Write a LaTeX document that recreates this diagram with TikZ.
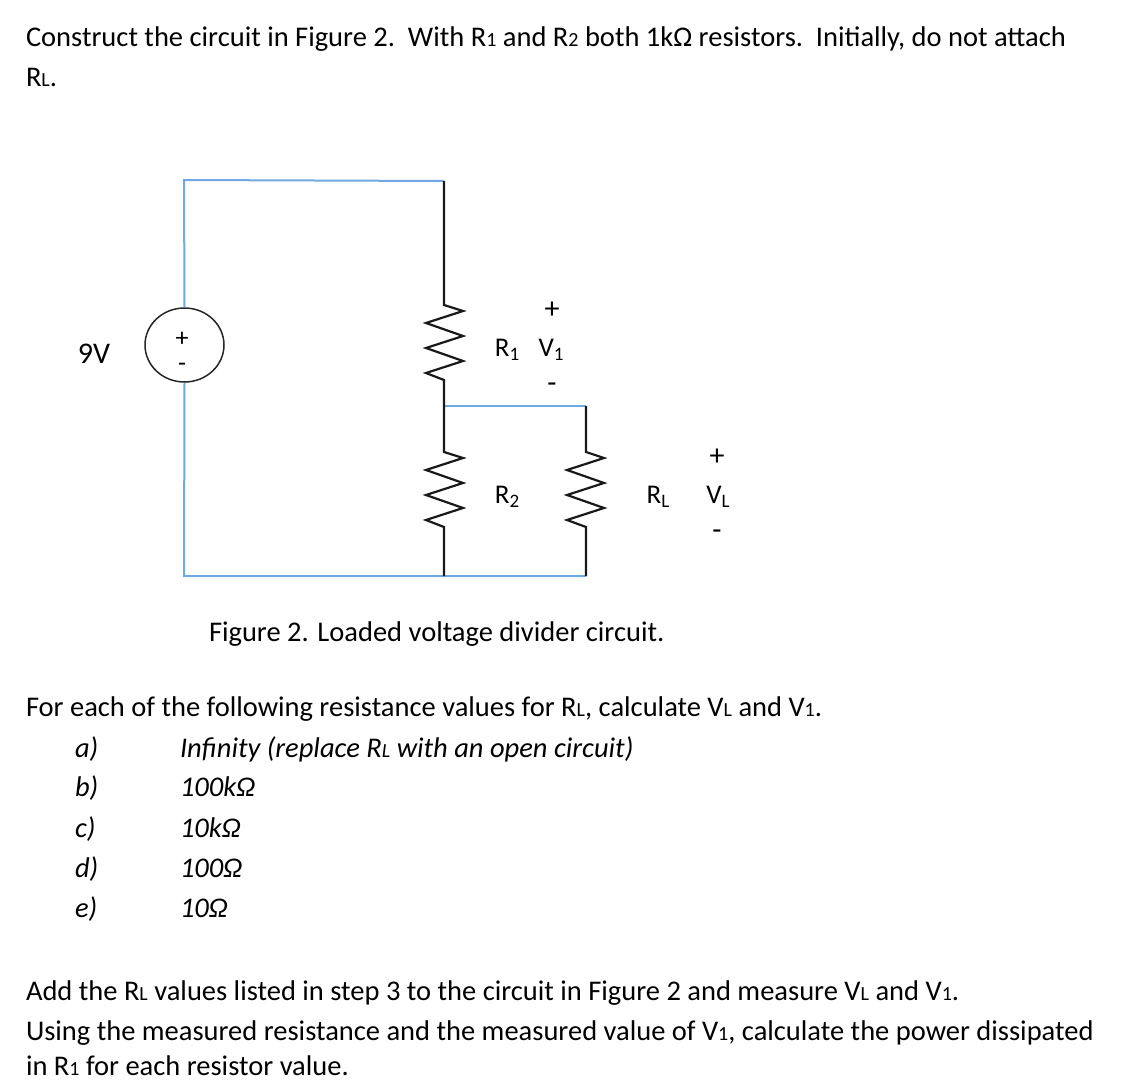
\documentclass[tikz,border=0pt]{standalone}
\usepackage{fontspec}
\usetikzlibrary{shapes.geometric}
\setmainfont{Carlito}
\newcommand{\lsub}[1]{{\fontsize{20}{20}\selectfont #1}}
\newcommand{\csub}[1]{\raisebox{-4pt}{\fontsize{19}{19}\selectfont #1}}
\definecolor{wirecol}{RGB}{110,170,225}
\tikzset{
  txt/.style={anchor=base west,inner sep=0pt,outer sep=0pt,font=\fontsize{28.5}{32}\selectfont},
  itxt/.style={txt,font=\fontsize{28.5}{32}\selectfont\itshape},
  clabel/.style={anchor=base,inner sep=0pt,outer sep=0pt,font=\fontsize{27}{30}\selectfont},
  sign/.style={clabel,font=\fontsize{30}{30}\selectfont},
  srcsign/.style={clabel,font=\fontsize{26}{26}\selectfont},
  wire/.style={draw=wirecol,line width=2pt},
  lead/.style={draw=black!90,line width=2.2pt,line join=miter}
}
\begin{document}
\begin{tikzpicture}[x=1pt,y=-1pt]
\useasboundingbox (0,0) rectangle (1131,1086);
\node[txt] (t1) at (26,47) {Construct the circuit in Figure 2.\ \ With R\lsub{1} and R\lsub{2} both 1kΩ resistors.\ \ Initially, do not attach};
\node[txt] (t2) at (26,87) {R\lsub{L}.};
% circuit
\coordinate (tl) at (184,180);
\coordinate (tr) at (444,181);
\coordinate (bl) at (184,576);
\coordinate (bm) at (444,576);
\coordinate (br) at (586,576);
\coordinate (j1) at (444,406);
\coordinate (j2) at (586,406);
\node[draw=black!85,line width=1.5pt,ellipse,minimum width=79pt,minimum height=74pt,inner sep=0pt] (src) at (184.5,345) {};
\draw[wire] (src.north) -- (tl) -- (tr);
\draw[wire] (src.south) -- (bl) -- (br);
\draw[wire] (j1) -- (j2);
\draw[lead] (tr) -- (444,305) -- (463,311) -- (426,323) -- (463,336) -- (426,348) -- (463,361) -- (426,373) -- (444,380) -- (j1);
\draw[lead] (j1) -- (444,452) -- (463,458) -- (426,470) -- (463,483) -- (426,495) -- (463,508) -- (426,520) -- (444,527) -- (bm);
\draw[lead] (j2) -- (586,452) -- (604,458) -- (567,470) -- (604,483) -- (567,495) -- (604,508) -- (567,520) -- (586,527) -- (br);
\node[srcsign] (splus) at (182,346) {+};
\node[srcsign] (sminus) at (182,371) {-};
\node[sign] (vs) at (94,363) {9V};
\node[clabel] (r1) at (507,356) {R\csub{1}};
\node[clabel] (v1) at (551,356) {V\csub{1}};
\node[sign] (v1p) at (552,318) {+};
\node[sign] (v1m) at (552,392) {-};
\node[clabel] (r2) at (507,503) {R\csub{2}};
\node[clabel] (rl) at (658,503) {R\csub{L}};
\node[clabel] (vl) at (718,503) {V\csub{L}};
\node[sign] (vlp) at (717,465) {+};
\node[sign] (vlm) at (717,539) {-};
\node[txt] (cap) at (209,641) {Figure 2. Loaded voltage divider circuit.};
\node[txt] (q) at (26,716) {For each of the following resistance values for R\lsub{L}, calculate V\lsub{L} and V\lsub{1}.};
\node[itxt] (a) at (75,757) {a)};
\node[itxt] (av) at (180,757) {Infinity (replace R\lsub{L} with an open circuit)};
\node[itxt] (b) at (75,796) {b)};
\node[itxt] (bv) at (180,796) {100kΩ};
\node[itxt] (c) at (75,837) {c)};
\node[itxt] (cv) at (180,837) {10kΩ};
\node[itxt] (d) at (75,877) {d)};
\node[itxt] (dv) at (180,877) {100Ω};
\node[itxt] (e) at (75,917) {e)};
\node[itxt] (ev) at (180,917) {10Ω};
\node[txt] (s1) at (26,1000) {Add the R\lsub{L} values listed in step 3 to the circuit in Figure 2 and measure V\lsub{L} and V\lsub{1}.};
\node[txt] (s2) at (26,1040) {Using the measured resistance and the measured value of V\lsub{1}, calculate the power dissipated};
\node[txt] (s3) at (26,1075) {in R\lsub{1} for each resistor value.};
\end{tikzpicture}
\end{document}
